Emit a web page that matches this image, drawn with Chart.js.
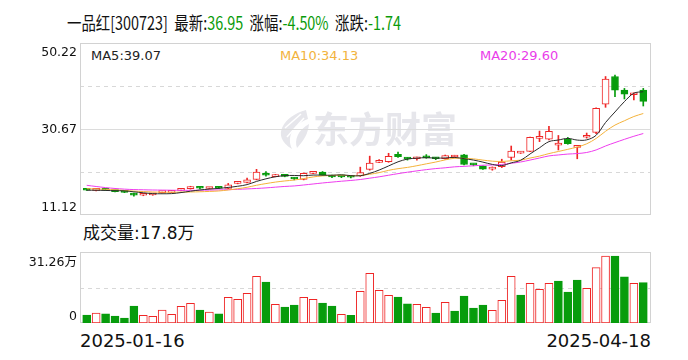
<!DOCTYPE html>
<html>
<head>
<meta charset="utf-8">
<script src="https://cdn.jsdelivr.net/npm/chart.js@4.4.1/dist/chart.umd.min.js"></script>
<style>
    body { margin: 0; width: 688px; height: 360px; background: #fff; position: relative; overflow: hidden; font-family: "DejaVu Sans", "Noto Sans CJK SC", sans-serif; color: #111; }
    .t { position: absolute; white-space: nowrap; line-height: 20px; }
    .g { color: #0a9b0a; }
    canvas { position: absolute; left: 0; }
    .tick { position: absolute; right: 611px; font-size: 12.5px; line-height: 20px; white-space: nowrap; }
</style>
</head>
<body>
<div class="t" id="title" style="left:67px;top:9px;line-height:24px;font:18px 'Noto Sans CJK SC';transform:scaleX(0.8);transform-origin:left center"></div>
<div class="t" id="ma5Label" style="left:91px;top:46px;font-size:13px;color:#222"></div>
<div class="t" id="ma10Label" style="left:280px;top:46px;font-size:13px;color:#f2b33d"></div>
<div class="t" id="ma20Label" style="left:480px;top:46px;font-size:13px;color:#ea3cea"></div>
<div class="t" id="volLabel" style="left:83px;top:223px;font-size:17px"></div>
<div class="t" id="dateFirst" style="left:80px;top:331px;font-size:18px"></div>
<div class="t" id="dateLast" style="right:37px;top:331px;font-size:18px"></div>
<canvas id="priceChart" width="688" height="225" style="top:0"></canvas>
<canvas id="volChart" width="688" height="100" style="top:240px"></canvas>
<div id="ticks"></div>

<script>
// Header
const stockName = '一品红[300723]';
const lastPrice = '36.95';
const changePct = '-4.50%';
const changeAmt = '-1.74';
const ma5Text = 'MA5:39.07';
const ma10Text = 'MA10:34.13';
const ma20Text = 'MA20:29.60';
const volText = '成交量:17.8万';

// Trading days
const dates = [
    '2025-01-16', '2025-01-17', '2025-01-20', '2025-01-21', '2025-01-22', '2025-01-23', '2025-01-24', '2025-01-27',
    '2025-02-05', '2025-02-06', '2025-02-07', '2025-02-10', '2025-02-11', '2025-02-12', '2025-02-13', '2025-02-14',
    '2025-02-17', '2025-02-18', '2025-02-19', '2025-02-20', '2025-02-21', '2025-02-24', '2025-02-25', '2025-02-26',
    '2025-02-27', '2025-02-28', '2025-03-03', '2025-03-04', '2025-03-05', '2025-03-06', '2025-03-07', '2025-03-10',
    '2025-03-11', '2025-03-12', '2025-03-13', '2025-03-14', '2025-03-17', '2025-03-18', '2025-03-19', '2025-03-20',
    '2025-03-21', '2025-03-24', '2025-03-25', '2025-03-26', '2025-03-27', '2025-03-28', '2025-03-31', '2025-04-01',
    '2025-04-02', '2025-04-03', '2025-04-07', '2025-04-08', '2025-04-09', '2025-04-10', '2025-04-11', '2025-04-14',
    '2025-04-15', '2025-04-16', '2025-04-17', '2025-04-18'
];

// OHLC
const opens = [16.85, 16.7, 16.9, 16.6, 16.4, 16.05, 15.6, 15.7, 16.2, 16.25,
    16.7, 17.1, 17.3, 17.15, 17.45, 17.15, 18.3, 18.5, 19.2, 20.65,
    19.85, 20.0, 19.4, 19.2, 20.6, 20.9, 19.95, 19.85, 19.8, 20.0,
    21.5, 23.1, 23.25, 24.9, 23.95, 23.9, 24.55, 24.0, 23.9, 24.3,
    24.8, 22.6, 22.25, 21.55, 22.1, 24.2, 25.2, 25.6, 28.55, 28.35,
    26.97, 28.3, 26.5, 28.8, 29.9, 36.3, 42.6, 39.5, 38.45, 39.5];
const highs = [16.95, 16.9, 16.95, 16.65, 16.45, 16.1, 15.85, 15.85, 16.5, 16.45,
    17.1, 17.65, 17.5, 17.35, 17.5, 18.3, 18.7, 19.5, 21.5, 21.0,
    20.35, 20.1, 19.6, 20.7, 21.0, 21.0, 20.2, 20.0, 19.95, 22.0,
    24.5, 23.7, 25.15, 25.45, 24.2, 24.3, 24.85, 24.2, 24.75, 24.7,
    24.9, 22.75, 22.3, 22.05, 23.8, 26.8, 25.55, 28.85, 30.2, 31.3,
    29.2, 28.75, 26.9, 29.75, 35.5, 42.6, 42.9, 39.9, 38.9, 39.9];
const lows = [16.7, 16.6, 16.7, 16.35, 16.2, 15.4, 15.5, 15.6, 16.1, 16.2,
    16.6, 17.0, 17.05, 17.05, 17.1, 17.1, 18.2, 18.4, 19.1, 19.95,
    19.8, 19.8, 19.1, 19.1, 20.5, 20.1, 19.6, 19.6, 19.55, 19.9,
    21.3, 23.0, 23.1, 24.2, 23.6, 23.6, 24.0, 23.7, 23.8, 24.1,
    22.5, 22.3, 21.5, 21.3, 21.9, 23.6, 25.1, 25.5, 27.8, 28.2,
    25.9, 27.2, 23.9, 28.6, 29.6, 35.6, 38.0, 37.5, 37.3, 35.9];
const closes = [16.75, 16.85, 16.75, 16.45, 16.25, 15.65, 15.75, 15.8, 16.3, 16.4,
    16.85, 17.3, 17.2, 17.3, 17.2, 17.95, 18.6, 19.1, 20.9, 20.15,
    20.3, 19.9, 19.3, 20.6, 20.9, 20.2, 19.75, 19.8, 19.7, 20.75,
    22.9, 23.55, 24.45, 24.4, 23.85, 24.0, 24.1, 23.9, 24.6, 24.45,
    22.6, 22.5, 21.55, 22.0, 23.15, 25.65, 25.45, 28.75, 29.0, 30.15,
    27.45, 27.35, 26.8, 29.25, 35.35, 42.0, 39.5, 38.6, 38.69, 36.95];

// Moving averages
const ma5 = [16.75, 16.75, 16.7, 16.65, 16.61, 16.39, 16.17, 15.98, 15.95, 15.98,
    16.22, 16.53, 16.81, 17.01, 17.17, 17.39, 17.65, 18.03, 18.75, 19.34,
    19.81, 20.07, 20.11, 20.05, 20.2, 20.18, 20.15, 20.25, 20.07, 20.04,
    20.58, 21.34, 22.27, 23.21, 23.83, 24.05, 24.15, 24.05, 24.09, 24.21,
    23.93, 23.61, 23.14, 22.62, 22.36, 22.97, 23.56, 25.0, 26.4, 27.8,
    28.16, 28.54, 28.15, 28.2, 29.24, 32.15, 34.54, 36.9, 38.8, 39.15];
const ma10 = [17.1, 17.05, 16.95, 16.85, 16.7, 16.55, 16.45, 16.35, 16.3, 16.3,
    16.31, 16.35, 16.4, 16.48, 16.58, 16.81, 17.09, 17.42, 17.88, 18.26,
    18.6, 18.86, 19.07, 19.4, 19.77, 20.0, 20.11, 20.18, 20.06, 20.12,
    20.38, 20.75, 21.27, 21.65, 21.94, 22.32, 22.75, 23.16, 23.65, 24.02,
    23.99, 23.88, 23.6, 23.36, 23.29, 23.45, 23.59, 24.07, 24.51, 25.08,
    25.56, 26.05, 26.57, 27.3, 28.52, 30.15, 31.56, 32.54, 33.51, 34.19];
const ma20 = [17.87, 17.6, 17.35, 17.15, 17.0, 16.9, 16.85, 16.8, 16.78, 16.75,
    16.73, 16.73, 16.75, 16.78, 16.82, 16.88, 16.95, 17.05, 17.15, 17.28,
    17.45, 17.61, 17.73, 17.94, 18.17, 18.4, 18.6, 18.8, 18.97, 19.19,
    19.49, 19.8, 20.16, 20.52, 20.85, 21.15, 21.43, 21.67, 21.85, 22.07,
    22.18, 22.31, 22.43, 22.5, 22.61, 22.88, 23.17, 23.61, 24.08, 24.55,
    24.77, 24.97, 25.09, 25.33, 25.91, 26.81, 27.58, 28.32, 29.02, 29.64];

// Volume (万)
const volumes = [3.5, 4.4, 4.0, 3.1, 2.2, 7.5, 3.4, 2.9, 5.7, 3.8,
    7.3, 8.7, 5.7, 4.8, 4.0, 11.3, 10.4, 13.1, 20.5, 18.0,
    8.2, 7.0, 7.9, 11.3, 10.4, 8.8, 7.5, 3.8, 3.4, 13.9,
    21.9, 14.4, 12.2, 11.4, 8.4, 8.2, 6.9, 4.4, 9.1, 5.3,
    11.9, 6.6, 7.9, 5.6, 10.0, 20.5, 12.3, 17.5, 14.8, 17.5,
    18.5, 13.6, 18.9, 15.3, 24.4, 29.5, 29.5, 20.3, 17.5, 17.8];

// Axis ticks
const priceMin = 11.12;
const priceMax = 50.22;
const priceTickLabels = ['50.22', '30.67', '11.12'];
const volMax = 31.26;
const volTickLabels = ['31.26万', '0'];

const RED = '#ef2626';
const GREEN = '#079c0c';

// text
document.getElementById('title').innerHTML =
    `${stockName}&nbsp;&nbsp;最新:<span class="g">${lastPrice}</span>&nbsp;&nbsp;涨幅:<span class="g">${changePct}</span>&nbsp;&nbsp;涨跌:<span class="g">${changeAmt}</span>`;
document.getElementById('ma5Label').textContent = ma5Text;
document.getElementById('ma10Label').textContent = ma10Text;
document.getElementById('ma20Label').textContent = ma20Text;
document.getElementById('volLabel').textContent = volText;
document.getElementById('dateFirst').textContent = dates[0];
document.getElementById('dateLast').textContent = dates[dates.length - 1];

const tickBox = document.getElementById('ticks');
function addTick(text, centerY) {
    const el = document.createElement('div');
    el.className = 'tick';
    el.style.top = (centerY - 10) + 'px';
    el.textContent = text;
    tickBox.appendChild(el);
}
addTick(priceTickLabels[0], 52);
addTick(priceTickLabels[1], 129);
addTick(priceTickLabels[2], 207);
addTick(volTickLabels[0], 262);
addTick(volTickLabels[1], 316);

// colours per day
const candleUp = closes.map((c, i) => c >= opens[i]);
const candleColor = candleUp.map(u => u ? RED : GREEN);
const volUp = closes.map((c, i) => i === 0 ? c >= opens[0] : c >= closes[i - 1]);

// watermark + panel grid
const watermark = {
    id: 'watermark',
    beforeDatasetsDraw(chart) {
        const ctx = chart.ctx;
        ctx.save();
        ctx.fillStyle = '#e6e6eb';
        ctx.font = 'bold 36px "Noto Sans CJK SC"';
        ctx.textBaseline = 'middle';
        ctx.fillText('东方财富', 313, 129);
        // logo swoosh
        ctx.beginPath();
        ctx.moveTo(306, 110);
        ctx.bezierCurveTo(284, 116, 270, 136, 292, 149);
        ctx.bezierCurveTo(286, 136, 294, 124, 308, 119);
        ctx.closePath();
        ctx.fill();
        ctx.beginPath();
        ctx.moveTo(309, 124);
        ctx.bezierCurveTo(298, 130, 294, 140, 297, 148);
        ctx.bezierCurveTo(304, 140, 308, 134, 309, 124);
        ctx.fill();
        ctx.strokeStyle = '#fff';
        ctx.lineWidth = 1.5;
        ctx.beginPath();
        ctx.moveTo(301, 114); ctx.lineTo(285, 128);
        ctx.moveTo(304, 118); ctx.lineTo(287, 137);
        ctx.stroke();
        ctx.restore();
    }
};

// frame sits 2px outside the plotting area, like the original
const panelGrid = {
    id: 'panelGrid',
    beforeDatasetsDraw(chart, args, opts) {
        const { ctx, chartArea: a, scales: { y } } = chart;
        const left = 80, right = 651;
        ctx.save();
        ctx.lineWidth = 1;
        opts.lines.forEach(l => {
            const py = Math.round(y.getPixelForValue(l.v)) + 0.5;
            ctx.strokeStyle = l.dash ? '#d8d8d8' : '#dcdcdc';
            ctx.setLineDash(l.dash ? [4, 4] : []);
            ctx.beginPath();
            ctx.moveTo(left, py);
            ctx.lineTo(right, py);
            ctx.stroke();
        });
        ctx.setLineDash([]);
        ctx.strokeStyle = '#d2d2d2';
        ctx.strokeRect(left + 0.5, a.top + 0.5, right - left - 1, a.bottom - a.top - 1);
        ctx.restore();
    }
};

function maLine(data, color) {
    return {
        type: 'line', data: data, borderColor: color, borderWidth: 1,
        pointRadius: 0, tension: 0.35, order: 0
    };
}

const q = (priceMax - priceMin) / 4;

new Chart(document.getElementById('priceChart'), {
    type: 'bar',
    data: {
        labels: dates,
        datasets: [
            maLine(ma5, '#2a2a2a'),
            maLine(ma10, '#f4b23a'),
            maLine(ma20, '#ee3cee'),
            {
                data: opens.map((o, i) => [o, closes[i]]),
                backgroundColor: candleUp.map(u => u ? '#ffffff' : GREEN),
                borderColor: candleColor,
                borderWidth: 1,
                borderSkipped: false,
                barThickness: 7,
                minBarLength: 2,
                grouped: false,
                order: 1
            },
            {
                data: lows.map((l, i) => [l, highs[i]]),
                backgroundColor: candleColor,
                borderWidth: 0,
                barThickness: 1,
                grouped: false,
                order: 2
            }
        ]
    },
    options: {
        responsive: false,
        animation: false,
        devicePixelRatio: 1,
        layout: { padding: { left: 82, right: 40, top: 43, bottom: 10 } },
        scales: {
            x: { type: 'category', display: false, offset: true },
            y: { display: false, min: priceMin, max: priceMax }
        },
        plugins: {
            legend: { display: false },
            tooltip: { enabled: false },
            panelGrid: { lines: [
                { v: priceMax - q, dash: true },
                { v: priceMin + 2 * q, dash: false },
                { v: priceMin + q, dash: true }
            ] }
        }
    },
    plugins: [watermark, panelGrid]
});

new Chart(document.getElementById('volChart'), {
    type: 'bar',
    data: {
        labels: dates,
        datasets: [{
            data: volumes,
            backgroundColor: volUp.map(u => u ? '#ffffff' : GREEN),
            borderColor: volUp.map(u => u ? RED : GREEN),
            borderWidth: 1,
            borderSkipped: false,
            barThickness: 8
        }]
    },
    options: {
        responsive: false,
        animation: false,
        devicePixelRatio: 1,
        layout: { padding: { left: 82, right: 40, top: 12, bottom: 17 } },
        scales: {
            x: { type: 'category', display: false, offset: true },
            y: { display: false, min: 0, max: volMax }
        },
        plugins: {
            legend: { display: false },
            tooltip: { enabled: false },
            panelGrid: { lines: [{ v: volMax / 2, dash: true }] }
        }
    },
    plugins: [panelGrid]
});
</script>
</body>
</html>
